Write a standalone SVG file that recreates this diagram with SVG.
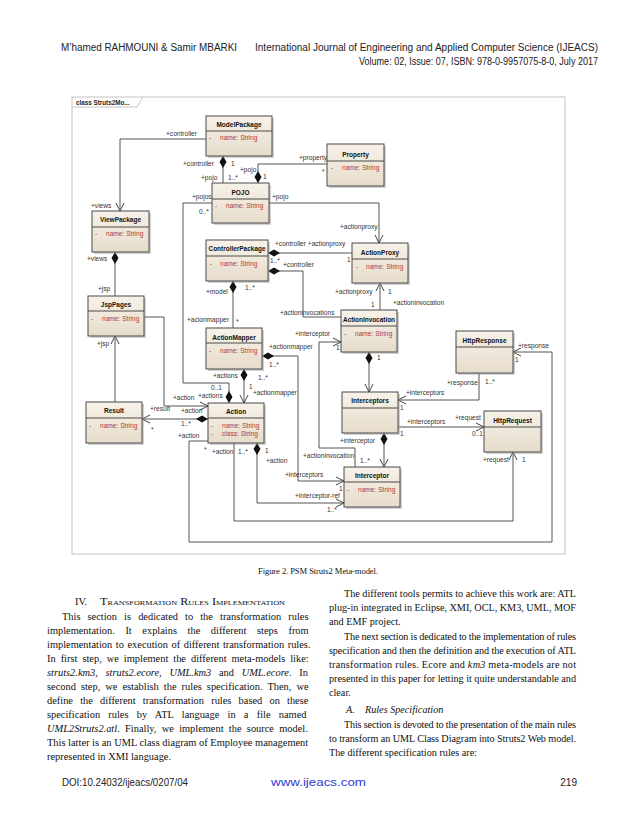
<svg xmlns="http://www.w3.org/2000/svg" width="638" height="826" viewBox="0 0 638 826">
<defs>
<linearGradient id="g" x1="0" y1="0" x2="0" y2="1">
<stop offset="0" stop-color="#f7f2e9"/>
<stop offset="1" stop-color="#e6dccb"/>
</linearGradient>
<marker id="arr" markerUnits="userSpaceOnUse" markerWidth="12" markerHeight="12" viewBox="-10 -6 12 12" refX="0" refY="0" orient="auto">
<path d="M-8,-4 L0,0 L-8,4" fill="none" stroke="#444" stroke-width="1"/>
</marker>
<marker id="dia" markerUnits="userSpaceOnUse" markerWidth="16" markerHeight="10" viewBox="-1 -5 16 10" refX="0" refY="0" orient="auto">
<path d="M0,0 L6,-3.5 L12,0 L6,3.5Z" fill="#111"/>
</marker>
</defs>
<style>
.box{fill:url(#g);stroke:#4a4a4a;stroke-width:1}
.sh{fill:#9a9a9a;opacity:.45}
.sep{stroke:#4a4a4a;stroke-width:1}
.t{font-family:"Liberation Sans",Arial,sans-serif;font-weight:bold;font-size:6.5px;fill:#111;text-anchor:middle}
.a{font-family:"Liberation Sans",Arial,sans-serif;font-size:6.6px;fill:#b03a3a}
.l{font-family:"Liberation Sans",Arial,sans-serif;font-size:6.6px;fill:#333}
.c{fill:none;stroke:#555;stroke-width:1}
.ar{marker-end:url(#arr)}
.di{marker-start:url(#dia)}
.hd{font-family:"Liberation Sans",Arial,sans-serif;font-size:10px;fill:#222}
.bt{font-family:"Liberation Serif","Times New Roman",serif;font-size:10.4px;fill:#111}
.br{font-family:"Liberation Serif","Times New Roman",serif;font-size:10.2px;fill:#111}
.it{font-style:italic}
.cap{font-family:"Liberation Serif","Times New Roman",serif;font-size:8.6px;fill:#111}
</style>
<rect width="638" height="826" fill="#fff"/>

<!-- page header -->
<text class="hd" x="61" y="50.5" textLength="176" lengthAdjust="spacingAndGlyphs">M’hamed RAHMOUNI &amp; Samir MBARKI</text>
<text class="hd" x="255" y="50.5" textLength="343" lengthAdjust="spacingAndGlyphs">International Journal of Engineering and Applied Computer Science (IJEACS)</text>
<text class="hd" x="359" y="64.5" textLength="239" lengthAdjust="spacingAndGlyphs">Volume: 02, Issue: 07, ISBN: 978-0-9957075-8-0, July 2017</text>

<!-- figure frame -->
<g id="frame">
<rect x="72" y="97" width="493" height="457" fill="none" stroke="#c4c4c4" stroke-width="1"/>
<path d="M72,107 H137 L143,97" fill="none" stroke="#c4c4c4" stroke-width="1"/>
<text x="76" y="104.5" style="font-family:'Liberation Sans',Arial,sans-serif;font-weight:bold;font-size:6.3px;fill:#222">class Struts2Mo...</text>
</g>

<!-- connectors -->
<g id="connectors">
<path class="c ar" d="M206,139 H120 V211"/>
<path class="c di" d="M223,156 V183"/>
<path class="c di" d="M258,183 V164 H327"/>
<path class="c ar" d="M269,203 H379 V243"/>
<path class="c di" d="M229,403 V383 H183 V203 H212"/>
<path class="c di" d="M115,252 V296"/>
<path class="c ar" d="M115,402 V336"/>
<path class="c ar" d="M144,317 H164 V406 H208"/>
<path class="c di ar" d="M208,419 H142"/>
<path class="c ar" d="M208,441 H189 V542 H552 V352 H513"/>
<path class="c ar" d="M234,443 V521 H513 V452"/>
<path class="c di ar" d="M257,443 V503 H344"/>
<path class="c di ar" d="M262,356 H298 V481 H344"/>
<path class="c di ar" d="M244,369 V403"/>
<path class="c di" d="M233,281 V328"/>
<path class="c di" d="M268,253 H352"/>
<path class="c di" d="M268,271 H303 V317 H341"/>
<path class="c ar" d="M380,310 V283"/>
<path class="c ar" d="M355,467 V448 H319 V342 H341"/>
<path class="c di ar" d="M369,352 V392"/>
<path class="c ar" d="M479,373 V400 H398"/>
<path class="c ar" d="M398,427 H484"/>
<path class="c di ar" d="M384,433 V467"/>
</g>

<!-- connector labels -->
<g id="labels">
<text class="l" x="166" y="135.5">+controller</text>
<text class="l" x="91" y="207.5">+views</text>
<text class="l" x="183" y="165.5">+controller</text>
<text class="l" x="231" y="165.5">1</text>
<text class="l" x="201" y="179.5">+pojo</text>
<text class="l" x="228" y="179.5">1..*</text>
<text class="l" x="240" y="171.5">+pojo</text>
<text class="l" x="263" y="178.5">1</text>
<text class="l" x="299" y="160">+property</text>
<text class="l" x="322" y="174">*</text>
<text class="l" x="272" y="199">+pojo</text>
<text class="l" x="340" y="229">+actionproxy</text>
<text class="l" x="192" y="199">+pojos</text>
<text class="l" x="199" y="213.5">0..*</text>
<text class="l" x="211" y="389.5">0..1</text>
<text class="l" x="198" y="397.5">+actions</text>
<text class="l" x="87" y="261">+views</text>
<text class="l" x="98" y="291">+jsp</text>
<text class="l" x="97" y="346">+jsp</text>
<text class="l" x="173" y="400">+action</text>
<text class="l" x="150" y="411">+result</text>
<text class="l" x="151" y="432">*</text>
<text class="l" x="181" y="413">+action</text>
<text class="l" x="181" y="426">1..*</text>
<text class="l" x="178" y="438">+action</text>
<text class="l" x="204" y="452">*</text>
<text class="l" x="518" y="348">+response</text>
<text class="l" x="515" y="362">1</text>
<text class="l" x="212" y="454">+action</text>
<text class="l" x="238" y="454">1..*</text>
<text class="l" x="483" y="462">+request</text>
<text class="l" x="522" y="462">1</text>
<text class="l" x="265" y="453">1</text>
<text class="l" x="266" y="463">+action</text>
<text class="l" x="295" y="498">+interceptor-ref</text>
<text class="l" x="327" y="512">1..*</text>
<text class="l" x="269" y="349">+actionmapper</text>
<text class="l" x="269" y="367">1..*</text>
<text class="l" x="285" y="477">+interceptors</text>
<text class="l" x="339" y="491">1</text>
<text class="l" x="213" y="378">+actions</text>
<text class="l" x="258" y="380">1..*</text>
<text class="l" x="249" y="389">1</text>
<text class="l" x="253" y="395">+actionmapper</text>
<text class="l" x="206" y="294">+model</text>
<text class="l" x="245" y="290">1..*</text>
<text class="l" x="187" y="322">+acionmapper</text>
<text class="l" x="236" y="324">*</text>
<text class="l" x="275" y="246">+controller +actionproxy</text>
<text class="l" x="270" y="263">1..*</text>
<text class="l" x="347" y="262">1</text>
<text class="l" x="283" y="267">+controller</text>
<text class="l" x="280" y="315">+actioninvocations</text>
<text class="l" x="335" y="294">+actionproxy</text>
<text class="l" x="388" y="294">1</text>
<text class="l" x="371" y="307">1</text>
<text class="l" x="393" y="305">+actioninvocation</text>
<text class="l" x="295" y="336">+interceptor</text>
<text class="l" x="336" y="350">1</text>
<text class="l" x="303" y="458">+actioninvocation</text>
<text class="l" x="360" y="463">1..*</text>
<text class="l" x="377" y="360">1</text>
<text class="l" x="447" y="385">+response</text>
<text class="l" x="485" y="384">1..*</text>
<text class="l" x="406" y="395">+interceptors</text>
<text class="l" x="400" y="410">1</text>
<text class="l" x="407" y="424">+interceptors</text>
<text class="l" x="400" y="436">1</text>
<text class="l" x="455" y="420">+request</text>
<text class="l" x="472" y="436">0..1</text>
<text class="l" x="340" y="443">+interceptor</text>
</g>

<!-- nodes -->
<g id="ModelPackage">
<rect class="sh" x="208" y="118" width="66" height="40"/>
<rect class="box" x="206" y="116" width="66" height="40"/>
<line class="sep" x1="206" y1="131" x2="272" y2="131"/>
<text class="t" x="239" y="126.5">ModelPackage</text>
<text class="a" x="209" y="140">-</text><text class="a" x="220" y="140">name:  String</text>
</g>
<g id="Property">
<rect class="sh" x="329" y="146" width="57" height="42"/>
<rect class="box" x="327" y="144" width="57" height="42"/>
<line class="sep" x1="327" y1="161" x2="384" y2="161"/>
<text class="t" x="355.5" y="156.5">Property</text>
<text class="a" x="331" y="169.5">-</text><text class="a" x="342" y="169.5">name:  String</text>
</g>
<g id="POJO">
<rect class="sh" x="214" y="185" width="57" height="40"/>
<rect class="box" x="212" y="183" width="57" height="40"/>
<line class="sep" x1="212" y1="199" x2="269" y2="199"/>
<text class="t" x="240.5" y="194.5">POJO</text>
<text class="a" x="215" y="207.5">-</text><text class="a" x="226" y="207.5">name:  String</text>
</g>
<g id="ViewPackage">
<rect class="sh" x="94" y="213" width="57" height="41"/>
<rect class="box" x="92" y="211" width="57" height="41"/>
<line class="sep" x1="92" y1="227" x2="149" y2="227"/>
<text class="t" x="120.5" y="222">ViewPackage</text>
<text class="a" x="95" y="235.5">-</text><text class="a" x="106" y="235.5">name:  String</text>
</g>
<g id="ControllerPackage">
<rect class="sh" x="208" y="242" width="62" height="41"/>
<rect class="box" x="206" y="240" width="62" height="41"/>
<line class="sep" x1="206" y1="256" x2="268" y2="256"/>
<text class="t" x="237" y="251" textLength="57" lengthAdjust="spacingAndGlyphs">ControllerPackage</text>
<text class="a" x="210" y="265.5">-</text><text class="a" x="220" y="265.5">name:  String</text>
</g>
<g id="ActionProxy">
<rect class="sh" x="354" y="245" width="56" height="40"/>
<rect class="box" x="352" y="243" width="56" height="40"/>
<line class="sep" x1="352" y1="259" x2="408" y2="259"/>
<text class="t" x="380" y="254.5">ActionProxy</text>
<text class="a" x="356" y="268.5">-</text><text class="a" x="366" y="268.5">name:  String</text>
</g>
<g id="JspPages">
<rect class="sh" x="90" y="298" width="56" height="40"/>
<rect class="box" x="88" y="296" width="56" height="40"/>
<line class="sep" x1="88" y1="311" x2="144" y2="311"/>
<text class="t" x="116" y="307">JspPages</text>
<text class="a" x="91" y="320.5">-</text><text class="a" x="102" y="320.5">name:  String</text>
</g>
<g id="ActionInvocation">
<rect class="sh" x="343" y="312" width="56" height="42"/>
<rect class="box" x="341" y="310" width="56" height="42"/>
<line class="sep" x1="341" y1="326" x2="397" y2="326"/>
<text class="t" x="369" y="322" textLength="52" lengthAdjust="spacingAndGlyphs">ActionInvocation</text>
<text class="a" x="344" y="335.5">-</text><text class="a" x="355" y="335.5">name:  String</text>
</g>
<g id="ActionMapper">
<rect class="sh" x="208" y="330" width="56" height="41"/>
<rect class="box" x="206" y="328" width="56" height="41"/>
<line class="sep" x1="206" y1="343" x2="262" y2="343"/>
<text class="t" x="234" y="339.5">ActionMapper</text>
<text class="a" x="209" y="352.5">-</text><text class="a" x="220" y="352.5">name:  String</text>
</g>
<g id="HttpResponse">
<rect class="sh" x="458" y="333" width="57" height="42"/>
<rect class="box" x="456" y="331" width="57" height="42"/>
<line class="sep" x1="456" y1="347" x2="513" y2="347"/>
<text class="t" x="484.5" y="343">HttpResponse</text>
</g>
<g id="Interceptors">
<rect class="sh" x="344" y="394" width="56" height="41"/>
<rect class="box" x="342" y="392" width="56" height="41"/>
<line class="sep" x1="342" y1="408" x2="398" y2="408"/>
<text class="t" x="370" y="403">Interceptors</text>
</g>
<g id="Result">
<rect class="sh" x="88" y="404" width="56" height="41"/>
<rect class="box" x="86" y="402" width="56" height="41"/>
<line class="sep" x1="86" y1="418" x2="142" y2="418"/>
<text class="t" x="114" y="413">Result</text>
<text class="a" x="89" y="427.5">-</text><text class="a" x="100" y="427.5">name:  String</text>
</g>
<g id="Action">
<rect class="sh" x="210" y="405" width="56" height="40"/>
<rect class="box" x="208" y="403" width="56" height="40"/>
<line class="sep" x1="208" y1="418" x2="264" y2="418"/>
<text class="t" x="236" y="414">Action</text>
<text class="a" x="211" y="427.5">-</text><text class="a" x="222" y="427.5">name:  String</text>
<text class="a" x="211" y="435.5">-</text><text class="a" x="222" y="435.5">class:  String</text>
</g>
<g id="HttpRequest">
<rect class="sh" x="486" y="413" width="57" height="41"/>
<rect class="box" x="484" y="411" width="57" height="41"/>
<line class="sep" x1="484" y1="427" x2="541" y2="427"/>
<text class="t" x="512.5" y="423">HttpRequest</text>
</g>
<g id="Interceptor">
<rect class="sh" x="346" y="469" width="56" height="40"/>
<rect class="box" x="344" y="467" width="56" height="40"/>
<line class="sep" x1="344" y1="482" x2="400" y2="482"/>
<text class="t" x="372" y="478">Interceptor</text>
<text class="a" x="347" y="491.5">-</text><text class="a" x="358" y="491.5">name:  String</text>
</g>

<!-- caption -->
<text class="cap" x="258" y="574" textLength="120" lengthAdjust="spacing">Figure 2.    PSM Struts2 Meta-model.</text>

<!-- left column -->
<text class="bt" x="75" y="604.5">IV.</text>
<text class="bt" x="100" y="604.5" font-variant="small-caps" textLength="185" lengthAdjust="spacingAndGlyphs">Transformation Rules Implementation</text>
<text class="bt" x="62" y="619.5" word-spacing="4.5">This section is dedicated to the transformation rules</text>
<text class="bt" x="47" y="633.5" word-spacing="8">implementation. It explains the different steps from</text>
<text class="bt" x="47" y="647.5" word-spacing="1">implementation to execution of different transformation rules.</text>
<text class="bt" x="47" y="661.5" word-spacing="2.4">In first step, we implement the different meta-models like:</text>
<text class="bt" x="47" y="675.5" word-spacing="5.1"><tspan class="it">struts2.km3</tspan>, <tspan class="it">struts2.ecore</tspan>, <tspan class="it">UML.km3</tspan> and <tspan class="it">UML.ecore</tspan>. In</text>
<text class="bt" x="47" y="690" word-spacing="2.45">second step, we establish the rules specification. Then, we</text>
<text class="bt" x="47" y="704" word-spacing="4.6">define the different transformation rules based on these</text>
<text class="bt" x="47" y="718" word-spacing="5.65">specification rules by ATL language in a file named</text>
<text class="bt" x="47" y="732" word-spacing="2.7"><tspan class="it">UML2Struts2.atl</tspan>. Finally, we implement the source model.</text>
<text class="bt" x="47" y="746" word-spacing="0.05">This latter is an UML class diagram of Employee management</text>
<text class="bt" x="47" y="760">represented in XMI language.</text>

<!-- right column -->
<text class="br" x="344" y="596.5" textLength="232" lengthAdjust="spacing">The different tools permits to achieve this work are: ATL</text>
<text class="br" x="329" y="610.5" textLength="247" lengthAdjust="spacing">plug-in integrated in Eclipse, XMI, OCL, KM3, UML, MOF</text>
<text class="br" x="329" y="624.5">and EMF project.</text>
<text class="br" x="344" y="639.5" textLength="232" lengthAdjust="spacing">The next section is dedicated to the implementation of rules</text>
<text class="br" x="329" y="653.5" textLength="247" lengthAdjust="spacing">specification and then the definition and the execution of ATL</text>
<text class="br" x="329" y="667.5" textLength="247" lengthAdjust="spacing">transformation rules. Ecore and <tspan class="it">km3</tspan> meta-models are not</text>
<text class="br" x="329" y="682" textLength="247" lengthAdjust="spacing">presented in this paper for letting it quite understandable and</text>
<text class="br" x="329" y="696">clear.</text>
<text class="br it" x="346" y="713" xml:space="preserve">A.    Rules Specification</text>
<text class="br" x="344" y="728" textLength="232" lengthAdjust="spacing">This section is devoted to the presentation of the main rules</text>
<text class="br" x="329" y="742" textLength="247" lengthAdjust="spacing">to transform an UML Class Diagram into Struts2 Web model.</text>
<text class="br" x="329" y="756">The different specification rules are:</text>

<!-- footer -->
<text class="hd" x="62" y="785.5" textLength="126" lengthAdjust="spacingAndGlyphs">DOI:10.24032/ijeacs/0207/04</text>
<text class="hd" x="271" y="785.5" textLength="95" lengthAdjust="spacingAndGlyphs" style="fill:#2b3ad0">www.ijeacs.com</text>
<text class="hd" x="577" y="785.5" text-anchor="end">219</text>
</svg>
